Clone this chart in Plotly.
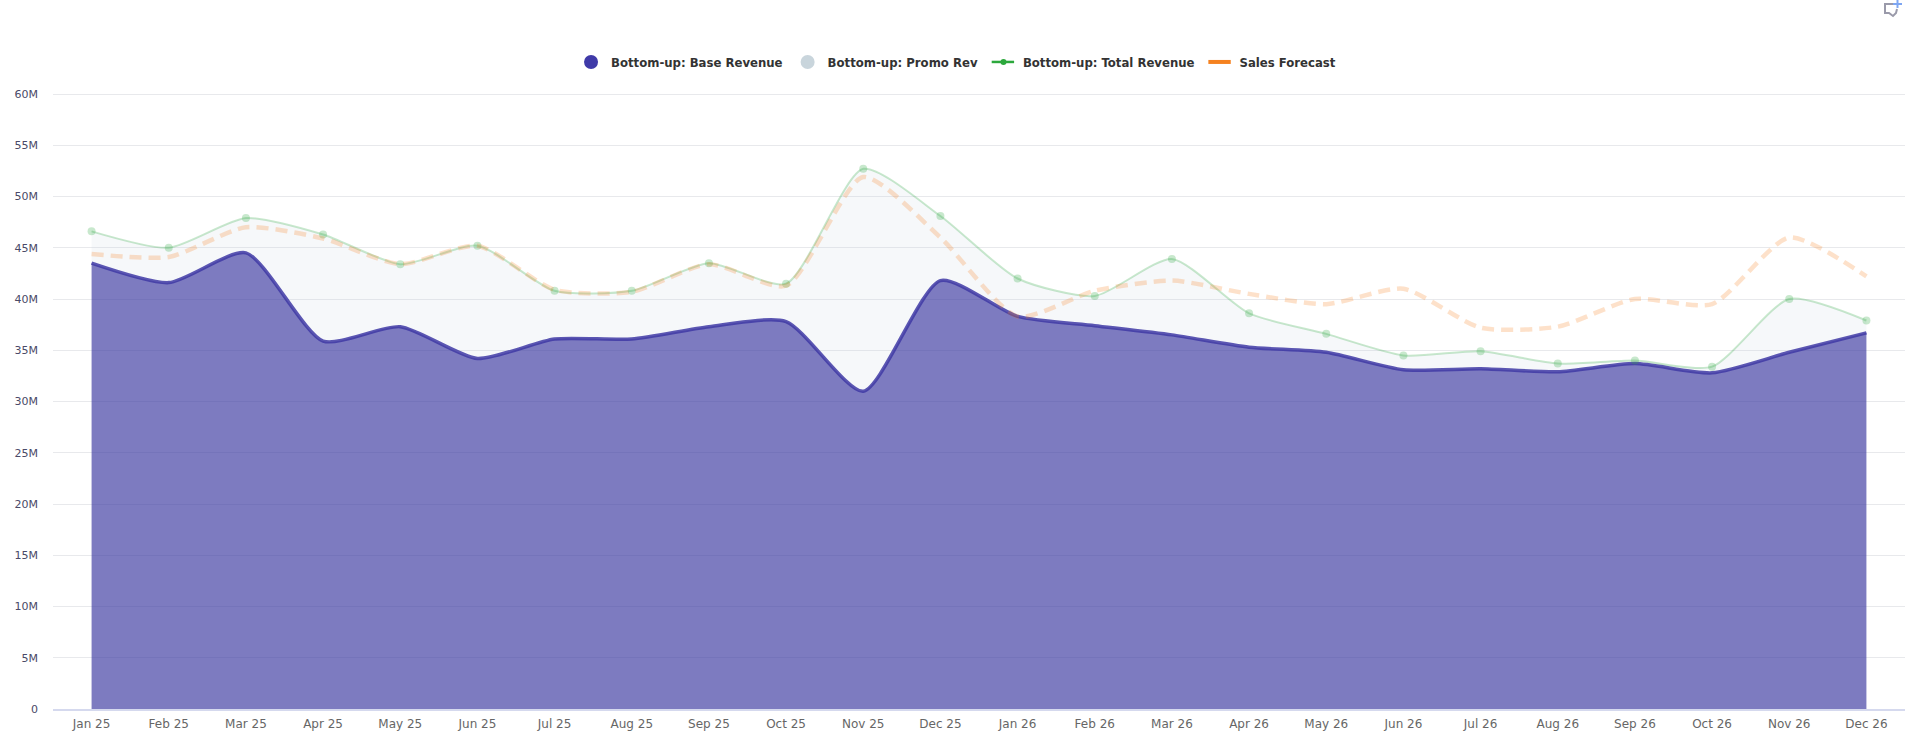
import plotly.graph_objects as go

months = ["Jan 25", "Feb 25", "Mar 25", "Apr 25", "May 25", "Jun 25", "Jul 25", "Aug 25",
          "Sep 25", "Oct 25", "Nov 25", "Dec 25", "Jan 26", "Feb 26", "Mar 26", "Apr 26",
          "May 26", "Jun 26", "Jul 26", "Aug 26", "Sep 26", "Oct 26", "Nov 26", "Dec 26"]
base_revenue = [43.5, 41.6, 44.5, 35.9, 37.3, 34.2, 36.1, 36.1, 37.3, 37.8, 31.0, 41.8,
                38.3, 37.4, 36.5, 35.3, 34.8, 33.1, 33.2, 32.9, 33.7, 32.8, 34.8, 36.7]
promo_revenue = [3.1, 3.4, 3.4, 10.4, 6.1, 11.0, 4.7, 4.7, 6.2, 3.7, 21.7, 6.3,
                 3.7, 2.9, 7.4, 3.3, 1.8, 1.4, 1.7, 0.8, 0.3, 0.6, 5.2, 1.2]
total_revenue = [46.6, 45.0, 47.9, 46.3, 43.4, 45.2, 40.8, 40.8, 43.5, 41.5, 52.7, 48.1,
                 42.0, 40.3, 43.9, 38.6, 36.6, 34.5, 34.9, 33.7, 34.0, 33.4, 40.0, 37.9]
sales_forecast = [44.4, 44.1, 47.0, 45.9, 43.4, 45.2, 40.9, 40.7, 43.4, 41.3, 51.9, 46.0,
                  38.3, 40.8, 41.8, 40.5, 39.5, 41.0, 37.2, 37.3, 40.0, 39.5, 46.0, 42.2]
y_ticks = [0, 5, 10, 15, 20, 25, 30, 35, 40, 45, 50, 55, 60]
y_tick_labels = ["0"] + [f"{v}M" for v in y_ticks[1:]]

FONT = "DejaVu Sans"
BASE = "#3f3aa8"
PROMO = "#c9d5dc"
TOTAL = "#2ca83c"
FORECAST = "#f58220"
SMOOTH = 0.65

# Plot frame in page pixels
LEFT, TOP, BOTTOM = 53, 93, 709
WIDTH = 1905 - LEFT
HEIGHT = BOTTOM - TOP


def px_x(x):
    return (x - LEFT) / WIDTH


def px_y(y):
    return (BOTTOM - y) / HEIGHT


def px_path(points):
    return "M" + " L".join(f"{px_x(x):.5f},{px_y(y):.5f}" for x, y in points)


fig = go.Figure()
fig.add_trace(go.Scatter(
    x=months, y=base_revenue, stackgroup="rev", mode="lines", showlegend=False,
    line=dict(color="rgba(63,58,165,0.85)", width=3.5, shape="spline", smoothing=SMOOTH),
    fillcolor="rgba(58,54,160,0.66)"))
fig.add_trace(go.Scatter(
    x=months, y=promo_revenue, stackgroup="rev", mode="lines", showlegend=False,
    line=dict(color="rgba(0,0,0,0)", width=0, shape="spline", smoothing=SMOOTH),
    fillcolor="rgba(201,213,224,0.16)"))
fig.add_trace(go.Scatter(
    x=months, y=total_revenue, mode="lines+markers", showlegend=False,
    line=dict(color="rgba(44,168,60,0.26)", width=2, shape="spline", smoothing=SMOOTH),
    marker=dict(color="rgba(44,168,60,0.26)", size=8)))
fig.add_trace(go.Scatter(
    x=months, y=sales_forecast, mode="lines", showlegend=False,
    line=dict(color="rgba(245,130,32,0.24)", width=4.5, dash="12px,7px", shape="spline", smoothing=SMOOTH)))

# Legend entries use full-strength colours, the plotted series are faded
fig.add_trace(go.Scatter(x=[None], y=[None], mode="markers", name="Bottom-up: Base Revenue",
                         marker=dict(color=BASE, size=14)))
fig.add_trace(go.Scatter(x=[None], y=[None], mode="markers", name="Bottom-up: Promo Rev",
                         marker=dict(color=PROMO, size=14)))
fig.add_trace(go.Scatter(x=[None], y=[None], mode="markers", name="Bottom-up: Total Revenue",
                         marker=dict(symbol="line-ew", size=18, line=dict(color=TOTAL, width=2.5))))
fig.add_trace(go.Scatter(x=[None], y=[None], mode="markers", name="Sales Forecast",
                         marker=dict(symbol="line-ew", size=16, line=dict(color=FORECAST, width=4))))

shapes = [
    # Comment icon in the top corner
    dict(type="path", xref="paper", yref="paper",
         path=px_path([(1895, 4), (1885, 4), (1885, 13), (1889, 13), (1893, 16), (1896, 13), (1897, 9)]),
         line=dict(color="#9a9aaa", width=2)),
    dict(type="path", xref="paper", yref="paper",
         path=px_path([(1893, 4), (1902, 4)]), line=dict(color="#7ea6f2", width=2)),
    dict(type="path", xref="paper", yref="paper",
         path=px_path([(1897.5, 0), (1897.5, 8)]), line=dict(color="#7ea6f2", width=2)),
    # Dot on the total-revenue legend key
    dict(type="circle", xref="paper", yref="paper",
         x0=px_x(1000.5), x1=px_x(1006.5), y0=px_y(65), y1=px_y(59),
         fillcolor=TOTAL, line=dict(width=0)),
]

fig.update_layout(
    width=1905, height=738,
    margin=dict(l=LEFT, r=0, t=TOP, b=738 - BOTTOM),
    paper_bgcolor="white", plot_bgcolor="white",
    font=dict(family=FONT, size=11, color="#333333"),
    legend=dict(orientation="h", x=0.4876, xanchor="center", y=px_y(62), yanchor="middle",
                bgcolor="rgba(0,0,0,0)",
                font=dict(family="DejaVu Sans Condensed", size=13, color="#333333", weight="bold"),
                itemwidth=30, traceorder="normal"),
    shapes=shapes,
    xaxis=dict(type="category", categoryorder="array", categoryarray=months,
               range=[-0.5, 23.5], showgrid=False, zeroline=False,
               showline=True, linecolor="#d5d9ee", linewidth=2,
               ticks="", ticklabelstandoff=3,
               tickfont=dict(family=FONT, size=12, color="#666666"), tickangle=0),
    yaxis=dict(range=[0, 60.1], tickvals=y_ticks, ticktext=y_tick_labels,
               showgrid=True, gridcolor="#e8e9ec", gridwidth=1.2, zeroline=False,
               showline=False, ticks="", ticklabelstandoff=14,
               tickfont=dict(family=FONT, size=11, color="#4a4a68")),
)
fig.write_html("out.html")
